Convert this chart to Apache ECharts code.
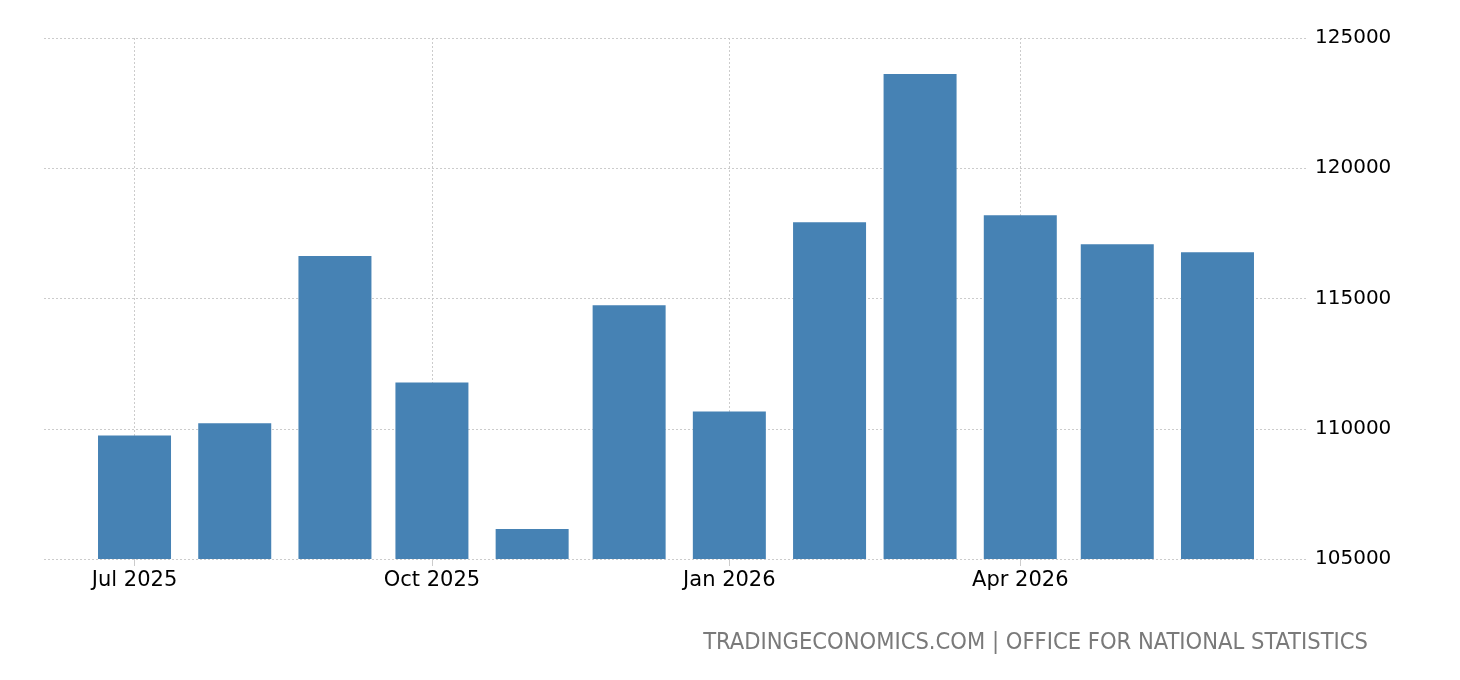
<!DOCTYPE html>
<html>
<head>
<meta charset="utf-8">
<script src="https://cdn.jsdelivr.net/npm/echarts@6/dist/echarts.min.js"></script>
<style>
  html, body { margin: 0; padding: 0; background: #fff; }
  #chart { width: 1460px; height: 680px; }
</style>
</head>
<body>
<div id="chart"></div>
<script>
// monthly values (bars sit at the first day of each month)
const months = ['2025-07-01', '2025-08-01', '2025-09-01', '2025-10-01', '2025-11-01', '2025-12-01',
  '2026-01-01', '2026-02-01', '2026-03-01', '2026-04-01', '2026-05-01', '2026-06-01']
const values = [109740, 110215, 116635, 111780, 106150, 114740,
  110660, 117930, 123620, 118200, 117080, 116780]
// quarterly ticks on the date axis
const tickDates = ['2025-07-01', '2025-10-01', '2026-01-01', '2026-04-01']
const monthNames = ['Jan', 'Feb', 'Mar', 'Apr', 'May', 'Jun', 'Jul', 'Aug', 'Sep', 'Oct', 'Nov', 'Dec']

const toTime = s => new Date(s + 'T00:00:00').getTime()
const tickValues = tickDates.map(toTime)

const chart = echarts.init(document.getElementById('chart'))
const font = 'DejaVu Sans'

chart.setOption({
  animation: false,
  grid: { left: 44, right: 152, top: 38, bottom: 121, containLabel: false },
  xAxis: {
    // dates as timestamps on a plain value axis, so ticks can be placed by hand
    type: 'value',
    min: toTime('2025-06-03'),
    max: toTime('2026-06-29'),
    axisLine: { show: false },
    axisTick: {
      show: true,
      length: 7,
      customValues: tickValues,
      lineStyle: { color: '#cccccc' }
    },
    axisLabel: {
      customValues: tickValues,
      margin: 11,
      color: '#000',
      fontFamily: font,
      fontSize: 21,
      formatter: function (v) {
        const d = new Date(v)
        return monthNames[d.getMonth()] + ' ' + d.getFullYear()
      }
    },
    splitLine: {
      show: true,
      lineStyle: { color: '#cccccc', type: [2, 2] }
    }
  },
  yAxis: {
    type: 'value',
    position: 'right',
    min: 105000,
    max: 125000,
    interval: 5000,
    axisLine: { show: false },
    axisTick: { show: false },
    axisLabel: {
      margin: 7,
      color: '#000',
      fontFamily: font,
      fontSize: 20,
      formatter: v => String(v)
    },
    splitLine: {
      lineStyle: { color: '#cccccc', type: [2, 2] }
    }
  },
  graphic: [{
    type: 'text',
    right: 92,
    top: 631,
    style: {
      text: 'TRADINGECONOMICS.COM | OFFICE FOR NATIONAL STATISTICS',
      fill: '#7a7a7a',
      font: '23.5px "DejaVu Sans Condensed", "DejaVu Sans", sans-serif'
    }
  }],
  series: [{
    type: 'bar',
    barWidth: 73,
    itemStyle: { color: '#4682B4' },
    data: months.map((m, i) => [toTime(m), values[i]])
  }]
})
</script>
</body>
</html>
